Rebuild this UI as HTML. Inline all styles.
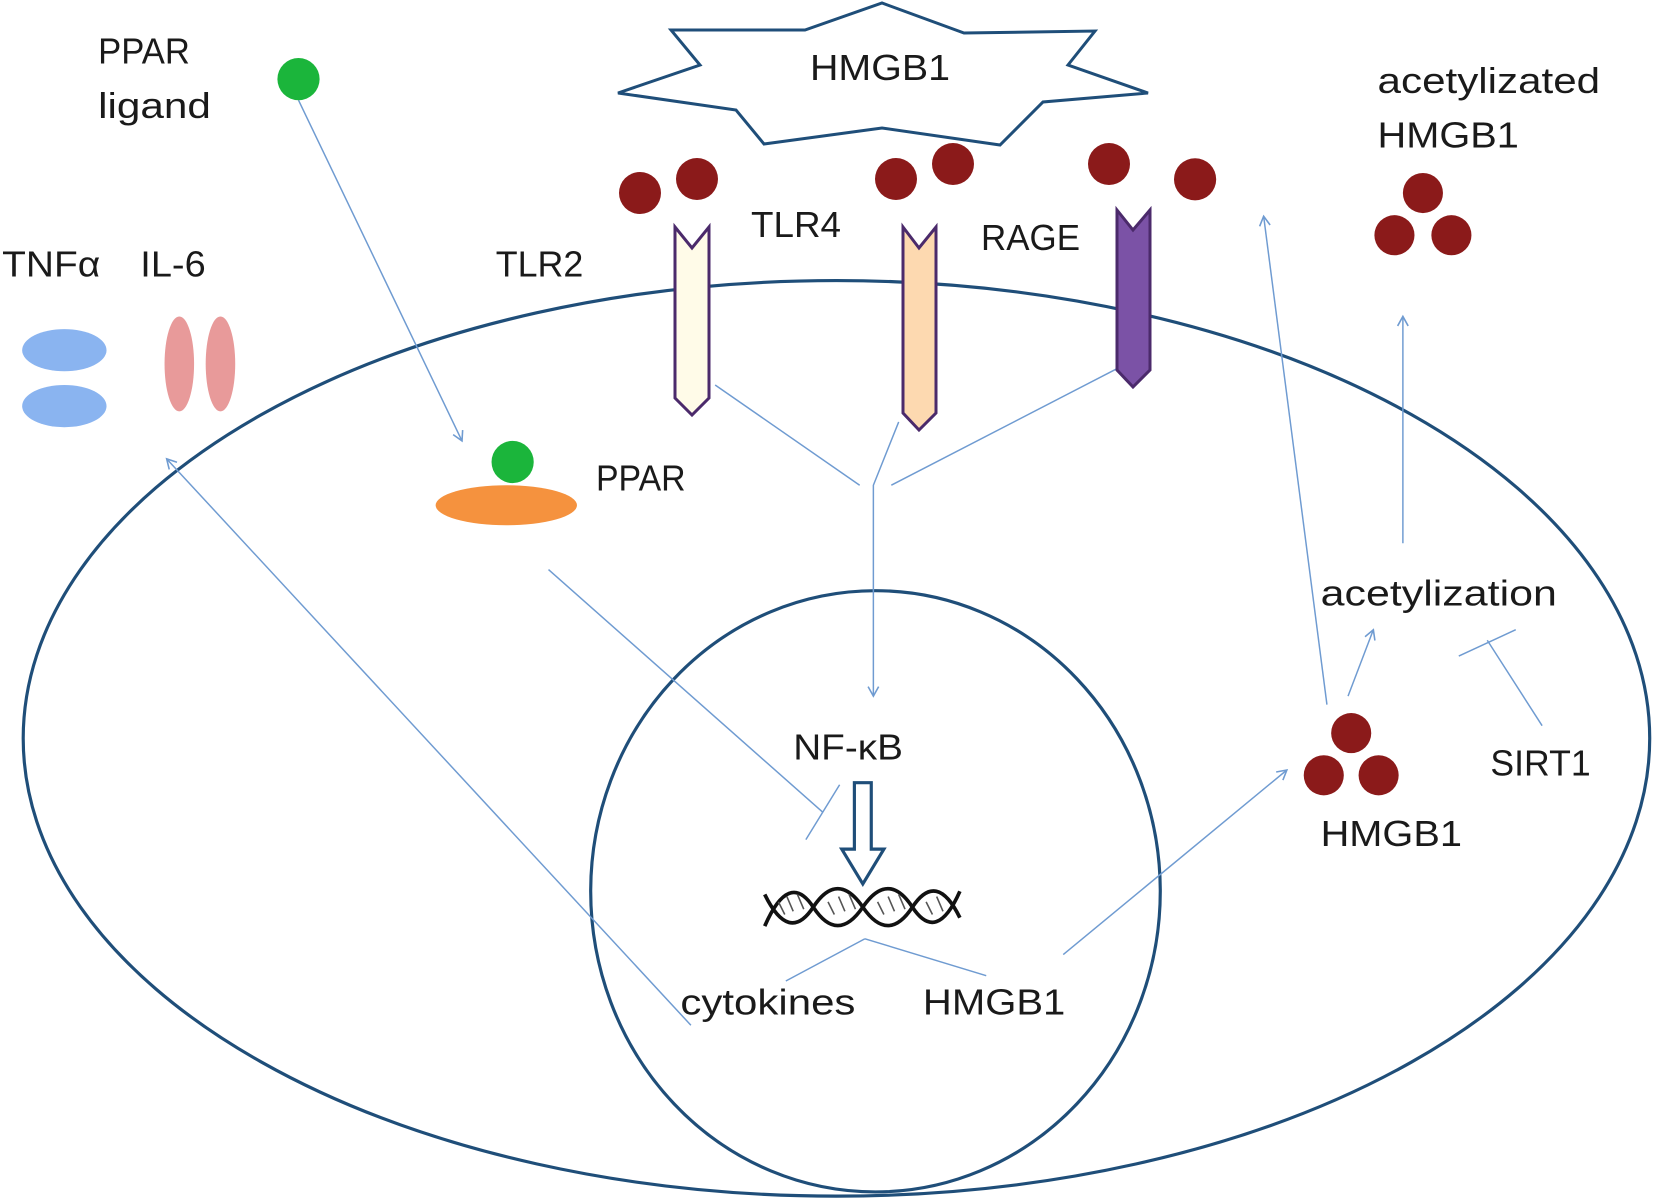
<!DOCTYPE html>
<html><head><meta charset="utf-8"><style>html,body{margin:0;padding:0;background:#fff}svg{display:block}text{font-family:"Liberation Sans",sans-serif;fill:#1a1a1a}</style></head>
<body>
<svg width="1654" height="1199" viewBox="0 0 1654 1199" xmlns="http://www.w3.org/2000/svg">
<defs>
<marker id="a" markerWidth="12" markerHeight="12" refX="10" refY="6" orient="auto" markerUnits="userSpaceOnUse"><path d="M1,1 L10,6 L1,11" fill="none" stroke="#6f9bd1" stroke-width="1.5"/></marker>
</defs>
<g transform="scale(1.0548)">
<ellipse cx="793" cy="700" rx="771" ry="434" fill="none" stroke="#1f4e79" stroke-width="3"/>
<ellipse cx="830" cy="845" rx="270" ry="285" fill="none" stroke="#1f4e79" stroke-width="3"/>
<g stroke="#6f9bd1" stroke-width="1.4" fill="none">
<line x1="283" y1="95" x2="438" y2="418" marker-end="url(#a)"/>
<line x1="678" y1="365" x2="815" y2="460"/>
<polyline points="852,400 828,460 828,660" marker-end="url(#a)"/>
<line x1="1058" y1="350" x2="845" y2="460"/>
<line x1="520" y1="540" x2="780" y2="770"/>
<line x1="764" y1="796" x2="796" y2="744"/>
<line x1="655" y1="972" x2="158" y2="435" marker-end="url(#a)"/>
<line x1="820" y1="890" x2="745" y2="930"/>
<line x1="820" y1="890" x2="935" y2="925"/>
<line x1="1008" y1="905" x2="1220" y2="730" marker-end="url(#a)"/>
<line x1="1258" y1="668" x2="1198" y2="205" marker-end="url(#a)"/>
<line x1="1278" y1="660" x2="1302" y2="597" marker-end="url(#a)"/>
<line x1="1330" y1="515" x2="1330" y2="300" marker-end="url(#a)"/>
<line x1="1462" y1="688" x2="1410" y2="607"/>
<line x1="1383" y1="622" x2="1437" y2="597"/>
</g>
<path d="M810,742 h16 v63 h12 l-20,33 l-20,-33 h12 z" fill="#fff" stroke="#1f4e79" stroke-width="3"/>
<g fill="none" stroke="#111" stroke-width="3.5">
<path d="M725,878 Q748,825 771,860 T818,860 T865,860 T910,845"/>
<path d="M725,848 Q748,895 771,860 T818,860 T865,860 T910,870"/>
</g>
<g stroke="#555" stroke-width="1.5">
<path d="M738,855 l6,12 M746,850 l6,14 M756,848 l6,14 M785,855 l6,12 M795,850 l6,14 M805,848 l6,14 M832,855 l6,12 M842,850 l6,14 M852,848 l6,14 M878,855 l6,12 M888,850 l6,14"/>
</g>
<g fill="#8b1a1a">
<circle cx="1133" cy="170" r="20"/>
<circle cx="1349" cy="183" r="19"/><circle cx="1322" cy="223" r="19"/><circle cx="1376" cy="223" r="19"/>
<circle cx="1281" cy="695" r="19"/><circle cx="1255" cy="735" r="19"/><circle cx="1307" cy="735" r="19"/>
</g>
<circle cx="283" cy="75" r="20" fill="#1bb53b"/>
<ellipse cx="480" cy="479" rx="67" ry="19" fill="#f5923e"/>
<circle cx="486" cy="438" r="20" fill="#1bb53b"/>
<ellipse cx="61" cy="332" rx="40" ry="20" fill="#8ab4f0"/>
<ellipse cx="61" cy="385" rx="40" ry="20" fill="#8ab4f0"/>
<ellipse cx="170" cy="345" rx="14" ry="45" fill="#e89a9a"/>
<ellipse cx="209" cy="345" rx="14" ry="45" fill="#e89a9a"/>
<g font-size="34">
<text x="93" y="60" textLength="87" lengthAdjust="spacingAndGlyphs">PPAR</text><text x="93" y="112" textLength="107" lengthAdjust="spacingAndGlyphs">ligand</text>
<text x="1306" y="88" textLength="211" lengthAdjust="spacingAndGlyphs">acetylizated</text><text x="1306" y="140" textLength="134" lengthAdjust="spacingAndGlyphs">HMGB1</text>
<text x="470" y="262" textLength="83" lengthAdjust="spacingAndGlyphs">TLR2</text>
<text x="2" y="262" textLength="93" lengthAdjust="spacingAndGlyphs">TNFα</text><text x="133" y="262" textLength="62" lengthAdjust="spacingAndGlyphs">IL-6</text>
<text x="565" y="465" textLength="85" lengthAdjust="spacingAndGlyphs">PPAR</text>
<text x="1252" y="574" textLength="224" lengthAdjust="spacingAndGlyphs">acetylization</text>
<text x="752" y="720" textLength="104" lengthAdjust="spacingAndGlyphs">NF-κB</text>
<text x="1413" y="735" textLength="95" lengthAdjust="spacingAndGlyphs">SIRT1</text>
<text x="1252" y="802" textLength="134" lengthAdjust="spacingAndGlyphs">HMGB1</text>
<text x="645" y="962" textLength="166" lengthAdjust="spacingAndGlyphs">cytokines</text><text x="875" y="962" textLength="135" lengthAdjust="spacingAndGlyphs">HMGB1</text>
</g>
</g>
<polygon points="671,30 805,30 882,3 964,33 1095,31 1068,65 1148,93 1043,102 1000,145 882,128 764,144 736,110 618,93 700,65" fill="#fff" stroke="#1f4e79" stroke-width="3"/>
<text x="810" y="80" font-size="36" textLength="140" lengthAdjust="spacingAndGlyphs">HMGB1</text>
<text x="751" y="237" font-size="36" textLength="90" lengthAdjust="spacingAndGlyphs">TLR4</text>
<text x="981" y="250" font-size="36" textLength="99" lengthAdjust="spacingAndGlyphs">RAGE</text>
<g fill="#8b1a1a"><circle cx="640" cy="193" r="21"/><circle cx="697" cy="179" r="21"/><circle cx="896" cy="179" r="21"/><circle cx="953" cy="164" r="21"/><circle cx="1109" cy="164" r="21"/></g>
<polygon points="675,227 692,248 709,227 709,398 692,415 675,398" fill="#fffbe8" stroke="#4b2a6b" stroke-width="3"/>
<polygon points="903,227 919,248 936,227 936,413 919,430 903,413" fill="#fdd9b0" stroke="#4b2a6b" stroke-width="3"/>
<polygon points="1117,210 1133,230 1150,210 1150,370 1133,387 1117,370" fill="#7b52a6" stroke="#4b2a6b" stroke-width="3"/>
</svg>
</body></html>
